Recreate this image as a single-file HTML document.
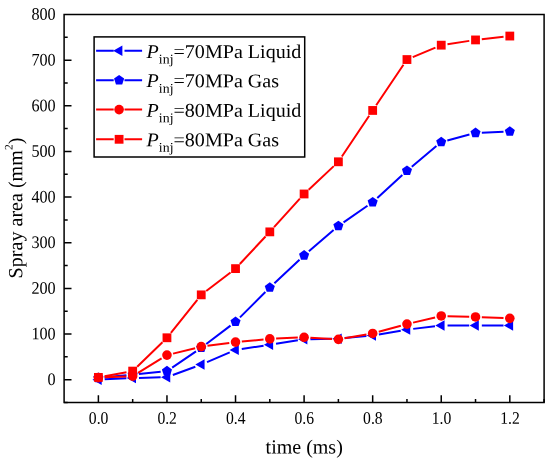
<!DOCTYPE html><html><head><meta charset="utf-8"><title>Spray area</title><style>html,body{margin:0;padding:0;background:#fff}svg{display:block}text{font-family:"Liberation Serif","Times New Roman",serif;fill:#000}</style></head><body>
<svg width="550" height="465" viewBox="0 0 550 465">
<rect width="550" height="465" fill="#fff"/>
<path d="M104.68,379.37L126.38,378.33 M138.97,377.88L160.66,377.36 M172.87,375.02L195.33,366.71 M207.04,362.05L229.73,352.38 M241.76,348.99L263.58,345.73 M276.03,343.79L297.88,340.24 M310.40,339.13L332.09,338.79 M344.66,338.10L366.40,336.07 M378.88,334.43L400.75,330.71 M413.21,328.88L434.99,326.21 M447.54,325.46L469.23,325.52 M481.83,325.54L503.51,325.54" fill="none" stroke="#0000ff" stroke-width="2.0"/>
<polygon points="92.49,379.68 101.69,374.48 101.69,384.88" fill="#0000ff"/>
<polygon points="126.77,378.03 135.97,372.83 135.97,383.23" fill="#0000ff"/>
<polygon points="161.06,377.21 170.26,372.01 170.26,382.41" fill="#0000ff"/>
<polygon points="195.34,364.52 204.54,359.32 204.54,369.72" fill="#0000ff"/>
<polygon points="229.63,349.91 238.83,344.71 238.83,355.11" fill="#0000ff"/>
<polygon points="263.91,344.80 273.11,339.60 273.11,350.00" fill="#0000ff"/>
<polygon points="298.20,339.23 307.40,334.03 307.40,344.43" fill="#0000ff"/>
<polygon points="332.49,338.69 341.69,333.49 341.69,343.89" fill="#0000ff"/>
<polygon points="366.77,335.49 375.97,330.29 375.97,340.69" fill="#0000ff"/>
<polygon points="401.06,329.65 410.26,324.45 410.26,334.85" fill="#0000ff"/>
<polygon points="435.34,325.45 444.54,320.25 444.54,330.65" fill="#0000ff"/>
<polygon points="469.63,325.54 478.83,320.34 478.83,330.74" fill="#0000ff"/>
<polygon points="503.91,325.54 513.11,320.34 513.11,330.74" fill="#0000ff"/>
<path d="M104.66,377.28L126.40,375.31 M138.94,374.08L160.69,371.76 M172.17,367.56L196.03,351.35 M206.26,344.01L230.51,325.60 M239.99,317.34L265.36,292.01 M274.41,283.25L299.51,259.69 M308.88,251.28L333.61,230.04 M343.57,222.35L367.49,205.79 M377.31,197.94L402.32,174.97 M411.79,166.66L436.41,146.08 M447.33,140.42L469.44,134.53 M481.82,132.66L503.52,131.79" fill="none" stroke="#0000ff" stroke-width="2.0"/>
<polygon points="98.39,372.55 103.43,376.21 101.50,382.14 95.27,382.14 93.35,376.21" fill="#0000ff"/>
<polygon points="132.67,369.45 137.71,373.11 135.79,379.03 129.56,379.03 127.63,373.11" fill="#0000ff"/>
<polygon points="166.96,365.79 172.00,369.46 170.07,375.38 163.84,375.38 161.92,369.46" fill="#0000ff"/>
<polygon points="201.24,342.51 206.28,346.18 204.36,352.10 198.13,352.10 196.20,346.18" fill="#0000ff"/>
<polygon points="235.53,316.50 240.57,320.16 238.64,326.08 232.41,326.08 230.49,320.16" fill="#0000ff"/>
<polygon points="269.81,282.26 274.85,285.92 272.93,291.85 266.70,291.85 264.77,285.92" fill="#0000ff"/>
<polygon points="304.10,250.08 309.14,253.74 307.22,259.67 300.98,259.67 299.06,253.74" fill="#0000ff"/>
<polygon points="338.39,220.64 343.43,224.30 341.50,230.22 335.27,230.22 333.35,224.30" fill="#0000ff"/>
<polygon points="372.67,196.90 377.71,200.56 375.79,206.49 369.56,206.49 367.63,200.56" fill="#0000ff"/>
<polygon points="406.96,165.40 412.00,169.07 410.07,174.99 403.84,174.99 401.92,169.07" fill="#0000ff"/>
<polygon points="441.24,136.74 446.28,140.40 444.36,146.33 438.13,146.33 436.20,140.40" fill="#0000ff"/>
<polygon points="475.53,127.61 480.57,131.27 478.64,137.20 472.41,137.20 470.49,131.27" fill="#0000ff"/>
<polygon points="509.81,126.24 514.85,129.90 512.93,135.83 506.70,135.83 504.77,129.90" fill="#0000ff"/>
<path d="M104.68,377.31L126.38,376.38 M138.04,372.83L161.58,358.41 M173.07,353.61L195.13,348.18 M207.49,345.84L229.28,342.94 M241.80,341.52L263.54,339.50 M276.11,338.62L297.81,337.61 M310.39,337.69L332.10,338.99 M344.59,338.30L366.46,334.51 M378.75,331.78L400.88,325.74 M413.09,322.63L435.11,317.41 M447.54,316.14L469.23,316.77 M481.82,317.21L503.52,318.08" fill="none" stroke="#ff0000" stroke-width="2.0"/>
<circle cx="98.39" cy="377.58" r="4.8" fill="#ff0000"/>
<circle cx="132.67" cy="376.12" r="4.8" fill="#ff0000"/>
<circle cx="166.96" cy="355.12" r="4.8" fill="#ff0000"/>
<circle cx="201.24" cy="346.67" r="4.8" fill="#ff0000"/>
<circle cx="235.53" cy="342.11" r="4.8" fill="#ff0000"/>
<circle cx="269.81" cy="338.91" r="4.8" fill="#ff0000"/>
<circle cx="304.10" cy="337.32" r="4.8" fill="#ff0000"/>
<circle cx="338.39" cy="339.37" r="4.8" fill="#ff0000"/>
<circle cx="372.67" cy="333.44" r="4.8" fill="#ff0000"/>
<circle cx="406.96" cy="324.08" r="4.8" fill="#ff0000"/>
<circle cx="441.24" cy="315.95" r="4.8" fill="#ff0000"/>
<circle cx="475.53" cy="316.96" r="4.8" fill="#ff0000"/>
<circle cx="509.81" cy="318.33" r="4.8" fill="#ff0000"/>
<path d="M104.58,376.26L126.48,372.23 M137.19,366.70L162.44,342.16 M170.89,332.85L197.31,299.79 M206.25,291.03L230.53,272.45 M239.83,264.01L265.52,236.48 M274.04,227.20L299.87,198.66 M308.69,189.67L333.79,166.11 M341.88,156.56L369.17,115.69 M376.19,105.23L403.44,64.78 M412.77,57.12L435.43,47.61 M447.47,44.22L469.30,40.88 M481.79,39.22L503.55,36.75" fill="none" stroke="#ff0000" stroke-width="2.0"/>
<rect x="93.99" y="372.99" width="8.8" height="8.8" fill="#ff0000"/>
<rect x="128.27" y="366.69" width="8.8" height="8.8" fill="#ff0000"/>
<rect x="162.56" y="333.37" width="8.8" height="8.8" fill="#ff0000"/>
<rect x="196.84" y="290.46" width="8.8" height="8.8" fill="#ff0000"/>
<rect x="231.13" y="264.22" width="8.8" height="8.8" fill="#ff0000"/>
<rect x="265.41" y="227.47" width="8.8" height="8.8" fill="#ff0000"/>
<rect x="299.70" y="189.58" width="8.8" height="8.8" fill="#ff0000"/>
<rect x="333.99" y="157.40" width="8.8" height="8.8" fill="#ff0000"/>
<rect x="368.27" y="106.05" width="8.8" height="8.8" fill="#ff0000"/>
<rect x="402.56" y="55.15" width="8.8" height="8.8" fill="#ff0000"/>
<rect x="436.84" y="40.77" width="8.8" height="8.8" fill="#ff0000"/>
<rect x="471.13" y="35.53" width="8.8" height="8.8" fill="#ff0000"/>
<rect x="505.41" y="31.65" width="8.8" height="8.8" fill="#ff0000"/>
<rect x="64.1" y="14.5" width="480.0" height="388.0" fill="none" stroke="#000" stroke-width="1.5"/>
<path d="M64.1,379.68h7.4 M64.1,334.03h7.4 M64.1,288.38h7.4 M64.1,242.74h7.4 M64.1,197.09h7.4 M64.1,151.44h7.4 M64.1,105.79h7.4 M64.1,60.15h7.4 M64.1,402.50h3.6 M64.1,356.85h3.6 M64.1,311.21h3.6 M64.1,265.56h3.6 M64.1,219.91h3.6 M64.1,174.26h3.6 M64.1,128.62h3.6 M64.1,82.97h3.6 M64.1,37.32h3.6 M98.39,402.5v-7.3 M166.96,402.5v-7.3 M235.53,402.5v-7.3 M304.10,402.5v-7.3 M372.67,402.5v-7.3 M441.24,402.5v-7.3 M509.81,402.5v-7.3 M132.67,402.5v-3.4 M201.24,402.5v-3.4 M269.81,402.5v-3.4 M338.39,402.5v-3.4 M406.96,402.5v-3.4 M475.53,402.5v-3.4 M544.10,402.5v-3.4" stroke="#000" stroke-width="1.5" fill="none"/>
<text transform="translate(55.7,385.03) rotate(0.03) scale(0.92,1)" font-size="17.6" text-anchor="end">0</text>
<text transform="translate(55.7,339.38) rotate(0.03) scale(0.92,1)" font-size="17.6" text-anchor="end">100</text>
<text transform="translate(55.7,293.73) rotate(0.03) scale(0.92,1)" font-size="17.6" text-anchor="end">200</text>
<text transform="translate(55.7,248.09) rotate(0.03) scale(0.92,1)" font-size="17.6" text-anchor="end">300</text>
<text transform="translate(55.7,202.44) rotate(0.03) scale(0.92,1)" font-size="17.6" text-anchor="end">400</text>
<text transform="translate(55.7,156.79) rotate(0.03) scale(0.92,1)" font-size="17.6" text-anchor="end">500</text>
<text transform="translate(55.7,111.14) rotate(0.03) scale(0.92,1)" font-size="17.6" text-anchor="end">600</text>
<text transform="translate(55.7,65.50) rotate(0.03) scale(0.92,1)" font-size="17.6" text-anchor="end">700</text>
<text transform="translate(55.7,19.85) rotate(0.03) scale(0.92,1)" font-size="17.6" text-anchor="end">800</text>
<text transform="translate(98.59,423.7) rotate(0.03) scale(0.89,1)" font-size="17.6" text-anchor="middle">0.0</text>
<text transform="translate(167.16,423.7) rotate(0.03) scale(0.89,1)" font-size="17.6" text-anchor="middle">0.2</text>
<text transform="translate(235.73,423.7) rotate(0.03) scale(0.89,1)" font-size="17.6" text-anchor="middle">0.4</text>
<text transform="translate(304.30,423.7) rotate(0.03) scale(0.89,1)" font-size="17.6" text-anchor="middle">0.6</text>
<text transform="translate(372.87,423.7) rotate(0.03) scale(0.89,1)" font-size="17.6" text-anchor="middle">0.8</text>
<text transform="translate(441.44,423.7) rotate(0.03) scale(0.89,1)" font-size="17.6" text-anchor="middle">1.0</text>
<text transform="translate(510.01,423.7) rotate(0.03) scale(0.89,1)" font-size="17.6" text-anchor="middle">1.2</text>
<text transform="translate(304.2,453.4) rotate(0.03)" font-size="20" text-anchor="middle">time (ms)</text>
<text transform="translate(22.3,208.05) rotate(-90.03)" font-size="20.1" text-anchor="middle">Spray area (mm<tspan font-size="11.5" dy="-9.8">2</tspan><tspan dy="9.8">)</tspan></text>
<rect x="94.1" y="36.9" width="210.6" height="120.1" fill="#fff" stroke="#000" stroke-width="1.5"/>
<path d="M96.1,50.7H113.69999999999999M124.5,50.7H142.1" stroke="#0000ff" stroke-width="2.0"/>
<polygon points="113.20,50.70 122.40,45.50 122.40,55.90" fill="#0000ff"/>
<text transform="translate(146.6,57.90) rotate(0.03) scale(1.035,1)" font-size="19.4"><tspan font-style="italic">P</tspan><tspan font-size="13.4" dy="5.6">inj</tspan><tspan dy="-5.6">=70MPa Liquid</tspan></text>
<path d="M96.1,80.2H113.69999999999999M124.5,80.2H142.1" stroke="#0000ff" stroke-width="2.0"/>
<polygon points="119.10,74.90 124.14,78.56 122.22,84.49 115.98,84.49 114.06,78.56" fill="#0000ff"/>
<text transform="translate(146.6,87.10) rotate(0.03) scale(1.035,1)" font-size="19.4"><tspan font-style="italic">P</tspan><tspan font-size="13.4" dy="5.6">inj</tspan><tspan dy="-5.6">=70MPa Gas</tspan></text>
<path d="M96.1,109.6H113.69999999999999M124.5,109.6H142.1" stroke="#ff0000" stroke-width="2.0"/>
<circle cx="119.10" cy="109.60" r="4.8" fill="#ff0000"/>
<text transform="translate(146.6,116.70) rotate(0.03) scale(1.035,1)" font-size="19.4"><tspan font-style="italic">P</tspan><tspan font-size="13.4" dy="5.6">inj</tspan><tspan dy="-5.6">=80MPa Liquid</tspan></text>
<path d="M96.1,139.3H113.69999999999999M124.5,139.3H142.1" stroke="#ff0000" stroke-width="2.0"/>
<rect x="114.70" y="134.90" width="8.8" height="8.8" fill="#ff0000"/>
<text transform="translate(146.6,146.20) rotate(0.03) scale(1.035,1)" font-size="19.4"><tspan font-style="italic">P</tspan><tspan font-size="13.4" dy="5.6">inj</tspan><tspan dy="-5.6">=80MPa Gas</tspan></text>
</svg></body></html>
